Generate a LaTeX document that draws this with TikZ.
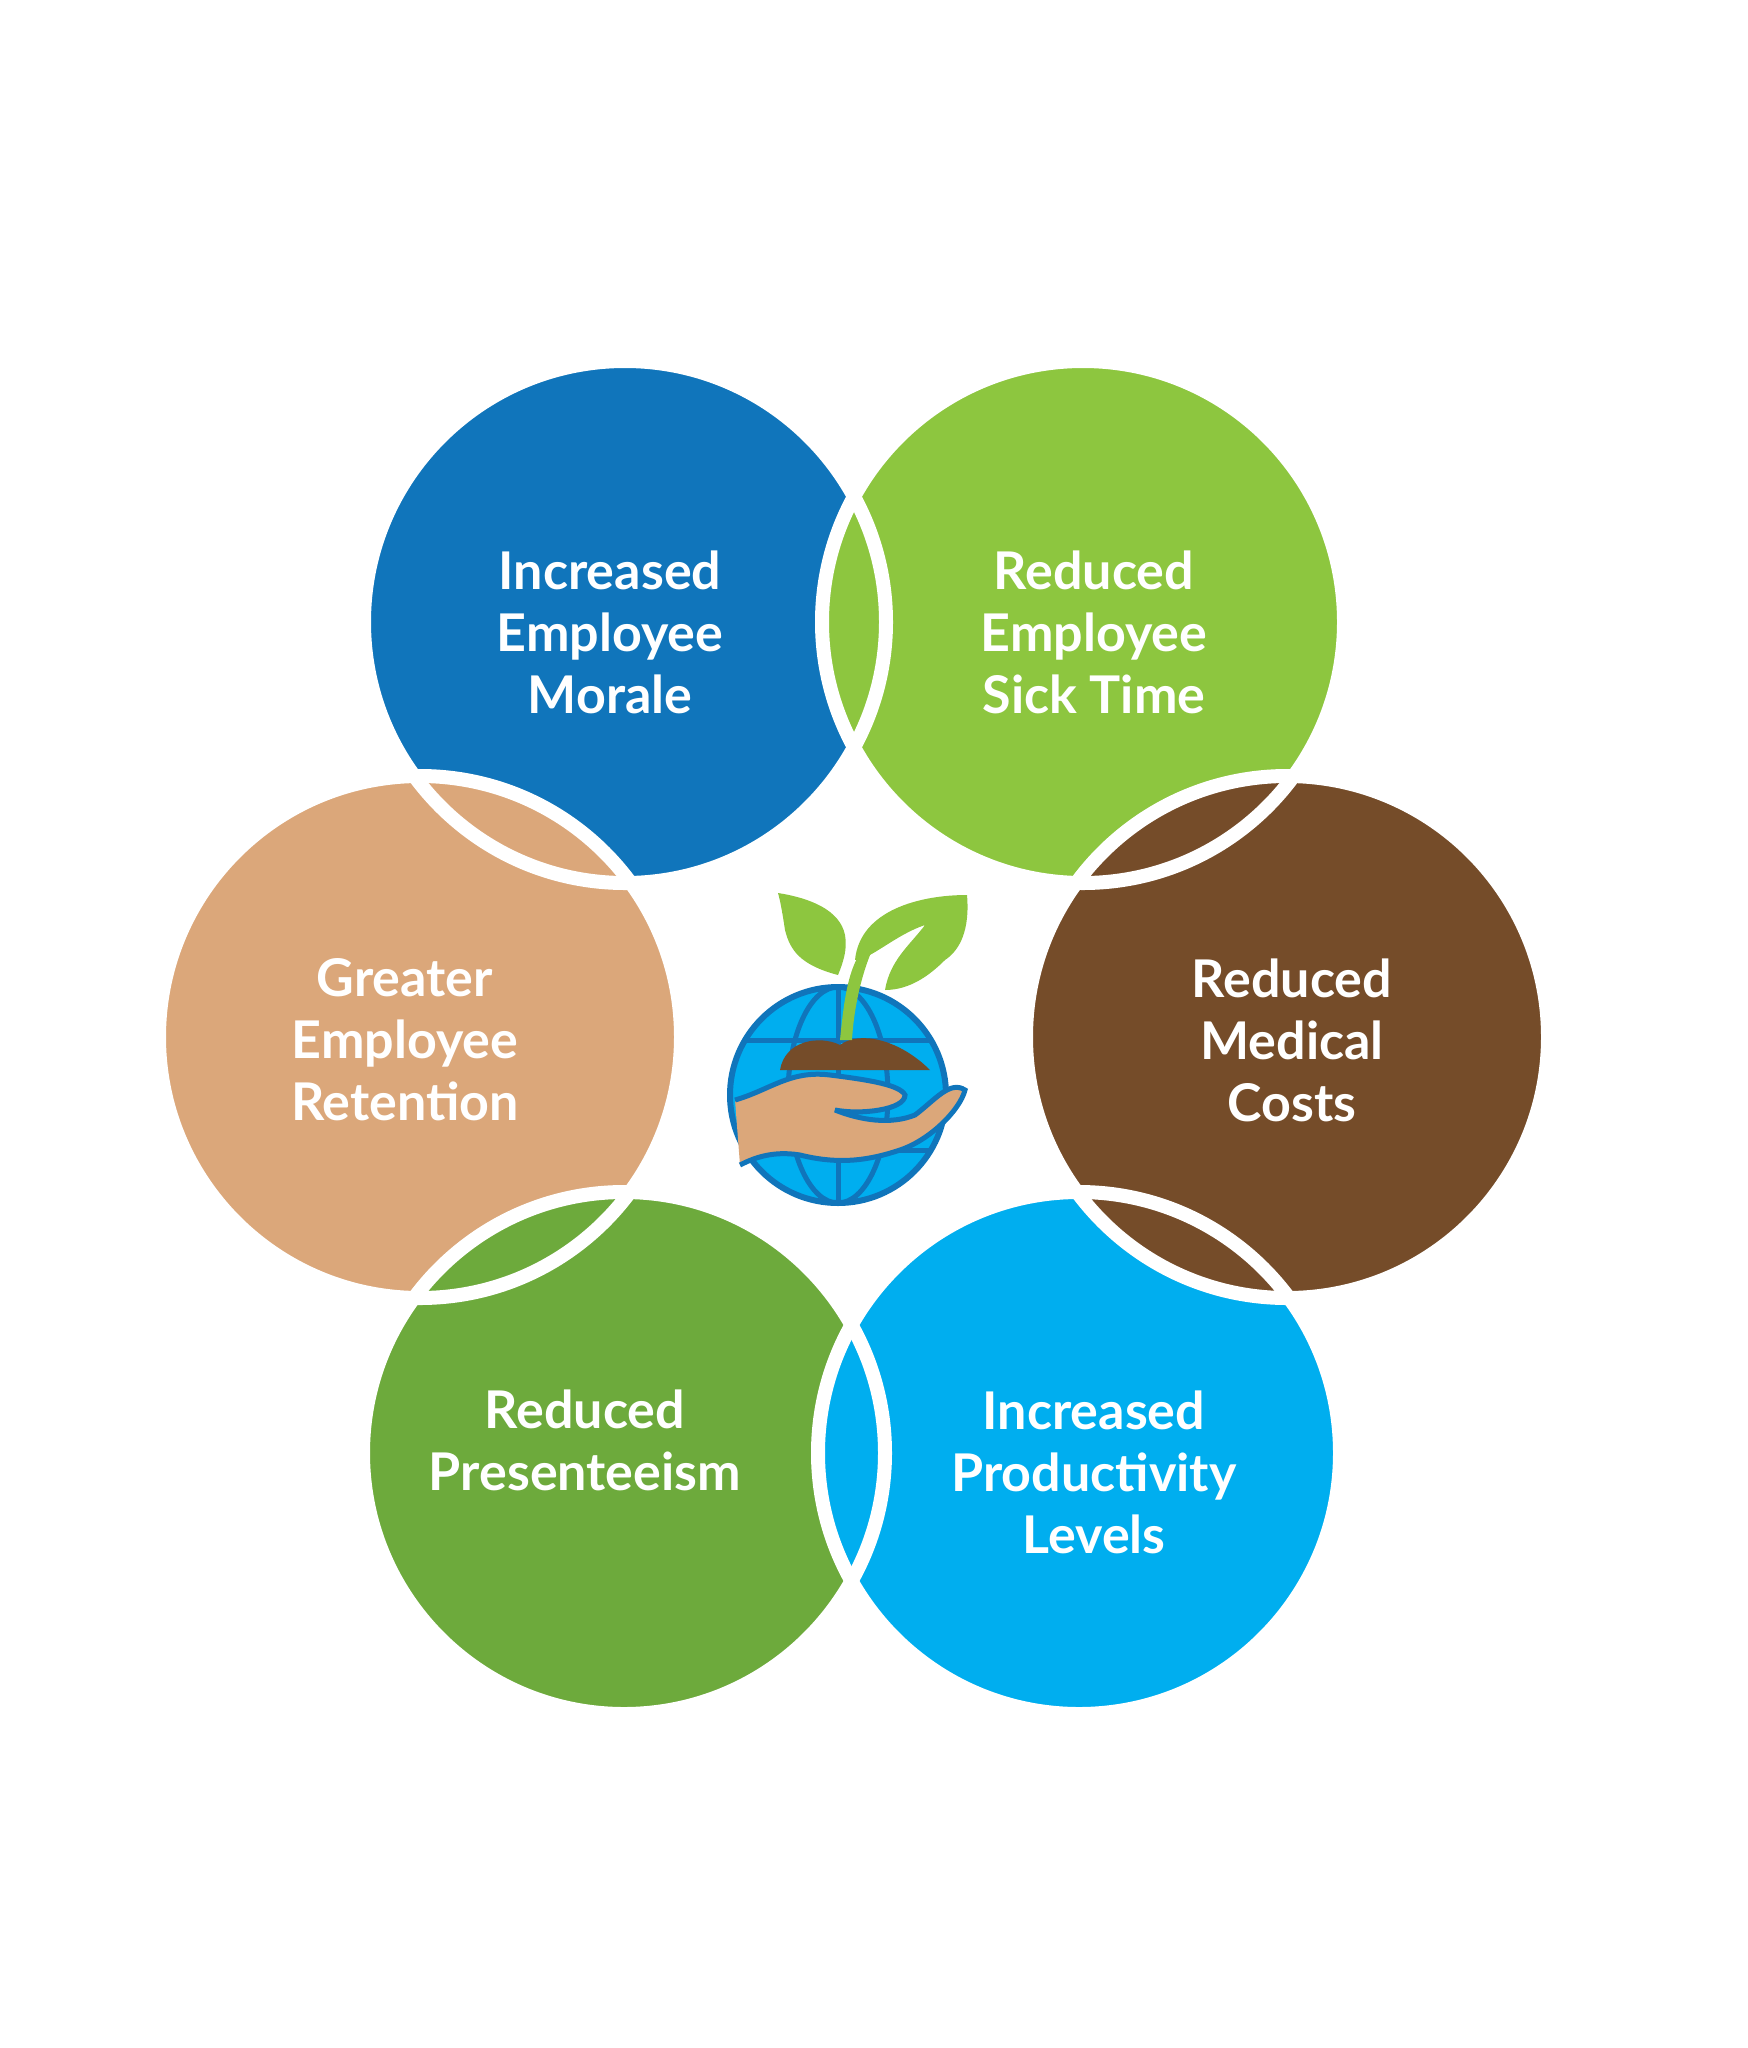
\documentclass[tikz,border=0pt]{standalone}
\usepackage{fontspec}
\setmainfont{Lato}
\definecolor{cblue}{HTML}{1075BB}
\definecolor{cgreen}{HTML}{8DC63F}
\definecolor{cbrown}{HTML}{754C29}
\definecolor{ctan}{HTML}{DBA77A}
\definecolor{cdgreen}{HTML}{6DAA3C}
\definecolor{clblue}{HTML}{00AEEF}
\begin{document}
\begin{tikzpicture}[x=1pt,y=-1pt,
  lbl/.style={text=white,font=\fontsize{52}{62}\selectfont\bfseries,align=center},
  ring/.style={draw=white,line width=14pt}]
\useasboundingbox (0,0) rectangle (1748,2048);
\def\R{261}
\coordinate (TL) at (625,622);
\coordinate (TR) at (1083,622);
\coordinate (ML) at (420,1037);
\coordinate (MR) at (1287,1037);
\coordinate (BL) at (624,1453);
\coordinate (BR) at (1079,1453);
\fill[cblue] (TL) circle (\R);
\fill[ctan] (ML) circle (\R);
\fill[cdgreen] (BL) circle (\R);
\fill[clblue] (BR) circle (\R);
\fill[cgreen] (TR) circle (\R);
\fill[cbrown] (MR) circle (\R);
\foreach \c in {TL,TR,ML,MR,BL,BR} \draw[ring] (\c) circle (\R);
\node[lbl] (tl) at (610,632) {Increased\\Employee\\Morale};
\node[lbl] (tr) at (1094,632) {Reduced\\Employee\\Sick Time};
\node[lbl] (ml) at (405,1040) {Greater\\Employee\\Retention};
\node[lbl] (mr) at (1292,1040) {Reduced\\Medical\\Costs};
\node[lbl] (bl) at (585,1440) {Reduced\\Presenteeism};
\node[lbl] (br) at (1094,1472) {Increased\\Productivity\\Levels};
% icon
\coordinate (G) at (838,1095);
\fill[clblue,draw=cblue,line width=6pt] (G) circle (108);
\begin{scope}
\clip (G) circle (108);
\draw[cblue,line width=5pt] (G) ellipse (50 and 108);
\draw[cblue,line width=5pt] (838,985) -- (838,1205);
\draw[cblue,line width=5pt] (720,1040) -- (960,1040);
\draw[cblue,line width=5pt] (720,1150) -- (960,1150);
\end{scope}
\fill[cbrown] (780,1070) .. controls (785,1040) and (820,1035) .. (840,1045) .. controls (860,1030) and (900,1040) .. (930,1070) -- cycle;
\draw[cblue,line width=5pt,fill=ctan] (735,1100) .. controls (770,1090) and (790,1070) .. (830,1075) .. controls (870,1080) and (900,1085) .. (905,1095) .. controls (905,1110) and (860,1115) .. (835,1110) .. controls (860,1120) and (890,1125) .. (915,1115) .. controls (935,1100) and (950,1080) .. (965,1090) .. controls (960,1110) and (930,1140) .. (900,1150) .. controls (870,1160) and (840,1165) .. (800,1155) .. controls (770,1150) and (750,1160) .. (740,1165);
\fill[cgreen] (840,1040) .. controls (845,990) and (850,950) .. (880,935) .. controls (870,950) and (855,990) .. (852,1040) -- cycle;
\fill[cgreen] (855,960) .. controls (860,910) and (920,895) .. (967,895) .. controls (970,930) and (960,950) .. (945,960) .. controls (930,975) and (910,990) .. (885,990) .. controls (890,960) and (910,945) .. (925,925) .. controls (895,935) and (870,960) .. (855,960) -- cycle;
\fill[cgreen] (840,970) .. controls (840,950) and (835,940) .. (822,928) .. controls (830,945) and (835,960) .. (840,970) -- cycle;
\fill[cgreen] (838,975) .. controls (800,965) and (790,950) .. (785,930) .. controls (782,910) and (780,900) .. (778,893) .. controls (810,898) and (840,910) .. (845,935) .. controls (848,950) and (842,965) .. (838,975) -- cycle;
\end{tikzpicture}
\end{document}
